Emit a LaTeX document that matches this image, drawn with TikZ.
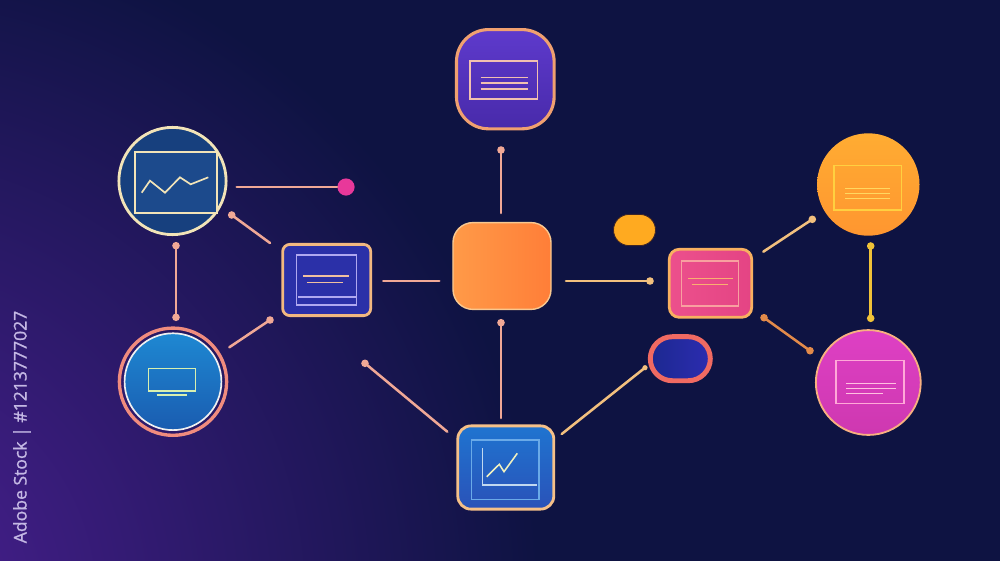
\documentclass[tikz,border=0pt]{standalone}
\usepackage{fontspec}
\newfontfamily\sidefont[FakeBold=1]{Open Sans}
\usepackage{tikz}
\usetikzlibrary{shapes.misc}
\definecolor{bgnavy}{HTML}{0E1342}
\definecolor{bgpurple}{HTML}{4C2094}
\definecolor{peach}{HTML}{F0A896}
\definecolor{cream}{HTML}{F2E4B8}
\definecolor{gold}{HTML}{F0C238}
\definecolor{amber}{HTML}{F2C07E}
\definecolor{rust}{HTML}{E28A4A}
\definecolor{sidegrey}{HTML}{C4B8E4}
\definecolor{trendfill}{HTML}{17407E}
\definecolor{trendbox}{HTML}{1C4A8C}
\definecolor{screenedge}{HTML}{F0F0F0}
\definecolor{screentop}{HTML}{1E88D2}
\definecolor{screenbot}{HTML}{1A5CB0}
\definecolor{salmon}{HTML}{F08C7E}
\definecolor{mint}{HTML}{D8F0B0}
\definecolor{docedge}{HTML}{F2B880}
\definecolor{docfill}{HTML}{2B30A8}
\definecolor{lilac}{HTML}{B0A8F0}
\definecolor{docline}{HTML}{F0C0A0}
\definecolor{noteedge}{HTML}{F0A070}
\definecolor{notetop}{HTML}{5E3ACC}
\definecolor{notebot}{HTML}{482AAA}
\definecolor{noteline}{HTML}{F2C0B0}
\definecolor{hubedge}{HTML}{F8C890}
\definecolor{hubleft}{HTML}{FF9A48}
\definecolor{hubright}{HTML}{FF7E38}
\definecolor{growedge}{HTML}{F5C088}
\definecolor{growtop}{HTML}{1F74D0}
\definecolor{growbot}{HTML}{2A52B8}
\definecolor{growbox}{HTML}{6AAAE8}
\definecolor{growaxis}{HTML}{C0D8F0}
\definecolor{growline}{HTML}{F0F0C0}
\definecolor{repedge}{HTML}{F8B060}
\definecolor{repleft}{HTML}{EC508C}
\definecolor{repright}{HTML}{E44484}
\definecolor{repbox}{HTML}{F8A0A0}
\definecolor{repline}{HTML}{F8B070}
\definecolor{tagedge}{HTML}{3C2428}
\definecolor{tagfill}{HTML}{FFAA20}
\definecolor{badgeedge}{HTML}{F06A62}
\definecolor{badgeleft}{HTML}{1C2890}
\definecolor{badgeright}{HTML}{2C2CB0}
\definecolor{suntop}{HTML}{FFAC32}
\definecolor{sunbot}{HTML}{FF9630}
\definecolor{sunbox}{HTML}{FFD040}
\definecolor{sunline}{HTML}{FFD860}
\definecolor{bloomedge}{HTML}{F8B080}
\definecolor{bloomtop}{HTML}{DE40C4}
\definecolor{bloombot}{HTML}{CE38B0}
\definecolor{bloombox}{HTML}{FFA8D8}
\definecolor{bloomline}{HTML}{FFC0E0}
\definecolor{pinfill}{HTML}{E8389A}

\begin{document}
\begin{tikzpicture}[
    x=0.025cm,y=-0.025cm,
    link/.style={line width=1.8pt,line cap=round},
    dot/.style={draw=none,fill,circle,inner sep=0pt,minimum size=0.19cm},
    thin/.style={line width=0.8pt},
    card/.style={draw,line width=2pt,inner sep=0pt}
    ]
    \useasboundingbox (0,0) rectangle (1000,560);
    \fill[bgnavy] (-10,-10) rectangle (1010,570);
    \begin{scope}
    \clip (-10,-10) rectangle (1010,570);
    \shade[inner color=bgpurple,outer color=bgnavy] (-140,600) circle (17cm);
    \end{scope}

    \node[rotate=90,text=sidegrey,font=\sidefont\fontsize{12.5}{14}\selectfont] (stockid) at (22,427) {Adobe Stock | \#1213777027};

    \node[circle,card,draw=cream,fill=trendfill,minimum size=2.68cm] (trend) at (172.5,181) {};
    \draw[cream,line width=1.6pt,fill=trendbox] (135,151.7) rectangle (216.7,213.3);
    \draw[cream,line width=1.2pt] (141.7,192.7) -- (150,180.7) -- (165,192.7) -- (180,177.3) -- (190.7,184.3) -- (208.3,177.3);

    \node[circle,draw=screenedge,line width=1.2pt,top color=screentop,bottom color=screenbot,minimum size=2.42cm] (screen) at (173,381.7) {};
    \draw[salmon,line width=2.4pt] (screen.center) circle (1.34cm);
    \draw[mint,line width=1pt] (148.3,368.3) rectangle (195.7,391);
    \draw[mint,line width=1pt] (156.7,395) -- (187.3,395);

    \node[card,draw=docedge,fill=docfill,rounded corners=0.18cm,minimum width=2.2cm,minimum height=1.78cm] (doc) at (326.7,280) {};
    \draw[thin,lilac] (296.7,255) rectangle (356.7,305);
    \draw[thin,lilac] (298,297) -- (355.5,297);
    \draw[thin,docline] (303,276) -- (349,276);
    \draw[thin,docline] (306.7,282.3) -- (343.3,282.3);

    \node[card,draw=noteedge,line width=2.2pt,rounded corners=0.8cm,top color=notetop,bottom color=notebot,minimum width=2.44cm,minimum height=2.48cm] (note) at (505.3,79.2) {};
    \draw[thin,noteline] (470,61) rectangle (537.3,99);
    \foreach \ly in {77.7,83,89}
      \draw[thin,noteline] (480.7,\ly) -- (528.3,\ly);

    \node[card,draw=hubedge,line width=1pt,rounded corners=0.5cm,left color=hubleft,right color=hubright,minimum width=2.45cm,minimum height=2.17cm] (hub) at (502,266) {};

    \node[card,draw=growedge,rounded corners=0.33cm,top color=growtop,bottom color=growbot,minimum width=2.4cm,minimum height=2.08cm] (growth) at (505.8,467.5) {};
    \draw[thin,growbox] (471.7,440) rectangle (539,499.3);
    \draw[thin,growaxis] (482.7,448.3) -- (482.7,485) -- (537.3,485);
    \draw[growline,line width=1.1pt] (486.7,476.7) -- (499.3,464.3) -- (504,471.7) -- (517.3,453.3);

    \node[card,draw=repedge,rounded corners=0.25cm,left color=repleft,right color=repright,minimum width=2.06cm,minimum height=1.7cm] (report) at (710.5,283.3) {};
    \draw[thin,repbox] (681.7,261) rectangle (738.3,306);
    \draw[thin,repline] (688.3,278.7) -- (732.7,278.7);
    \draw[thin,repline] (691.7,284.7) -- (727.7,284.7);

    \node[rounded rectangle,draw=tagedge,line width=0.6pt,fill=tagfill,minimum width=1.05cm,minimum height=0.78cm,inner sep=0pt] (tag) at (634.5,230) {};
    \node[rounded rectangle,draw=badgeedge,line width=3.5pt,left color=badgeleft,right color=badgeright,minimum width=1.5cm,minimum height=1.1cm,inner sep=0pt] (badge) at (680.3,358.7) {};

    \node[circle,draw=none,top color=suntop,bottom color=sunbot,minimum size=2.56cm] (sun) at (868.3,184.5) {};
    \draw[thin,sunbox] (834,165.7) rectangle (901.7,210);
    \foreach \ly in {188.3,193.3,198.3}
      \draw[thin,sunline] (845,\ly) -- (890,\ly);

    \node[circle,draw=bloomedge,line width=1.3pt,top color=bloomtop,bottom color=bloombot,minimum size=2.62cm] (bloom) at (868.3,382.5) {};
    \draw[thin,bloombox] (836,360.7) rectangle (904,403.3);
    \draw[thin,bloomline] (846,383.3) -- (895.7,383.3);
    \draw[thin,bloomline] (846,388.3) -- (895.7,388.3);
    \draw[thin,bloomline] (846,393.3) -- (882.7,393.3);

    \node[circle,fill=pinfill,minimum size=0.43cm,inner sep=0pt] (pin) at (346,187) {};

    \coordinate (a1) at (236.7,187);
    \coordinate (a2) at (231.7,215);
    \coordinate (a3) at (270,243);
    \coordinate (b1) at (176,245.7);
    \coordinate (b2) at (176,317.3);
    \coordinate (c1) at (229.3,347.3);
    \coordinate (c2) at (270,320);
    \coordinate (d1) at (383.3,281);
    \coordinate (d2) at (439.3,281);
    \coordinate (e1) at (501,150);
    \coordinate (e2) at (501,213);
    \coordinate (f1) at (566,281);
    \coordinate (f2) at (650,281);
    \coordinate (g1) at (501,322.7);
    \coordinate (g2) at (501,418);
    \coordinate (h1) at (365,363.3);
    \coordinate (h2) at (447.3,431.7);
    \coordinate (k1) at (561.7,434);
    \coordinate (k2) at (645,367.7);
    \coordinate (m1) at (763.3,251.7);
    \coordinate (m2) at (812.3,219.3);
    \coordinate (n1) at (764,317.7);
    \coordinate (n2) at (810,350.7);
    \coordinate (p1) at (870.7,246);
    \coordinate (p2) at (870.7,318.3);

    \draw[link,peach] (a1) -- (pin);
    \draw[link,peach] (a2) -- (a3);
    \draw[link,peach] (b1) -- (b2);
    \draw[link,peach] (c1) -- (c2);
    \draw[link,peach] (d1) -- (d2);
    \draw[link,peach] (e1) -- (e2);
    \draw[link,amber] (f1) -- (f2);
    \draw[link,peach] (g1) -- (g2);
    \draw[link,peach] (h1) -- (h2);
    \draw[link,amber] (k1) -- (k2);
    \draw[link,amber] (m1) -- (m2);
    \draw[link,rust] (n1) -- (n2);
    \draw[link,gold] (p1) -- (p2);
    \node[dot,peach] at (a2) {};
    \node[dot,peach] at (b1) {};
    \node[dot,peach] at (b2) {};
    \node[dot,peach] at (c2) {};
    \node[dot,peach] at (e1) {};
    \node[dot,amber] at (f2) {};
    \node[dot,peach] at (g1) {};
    \node[dot,peach] at (h1) {};
    \node[dot,amber,minimum size=0.13cm] at (k2) {};
    \node[dot,amber] at (m2) {};
    \node[dot,rust] at (n1) {};
    \node[dot,rust] at (n2) {};
    \node[dot,gold] at (p1) {};
    \node[dot,gold] at (p2) {};
  \end{tikzpicture}
\end{document}
